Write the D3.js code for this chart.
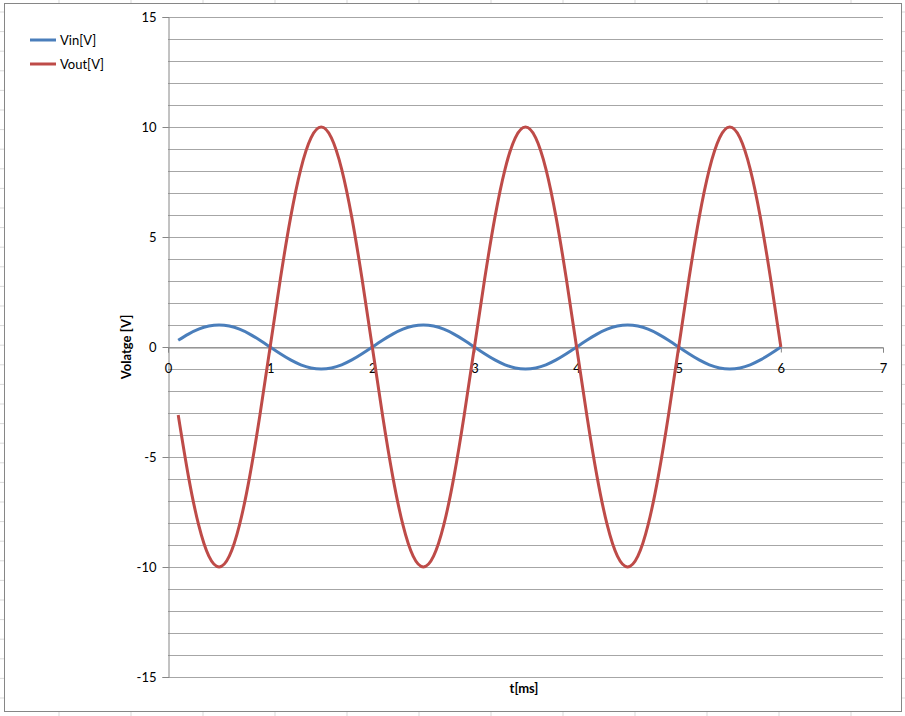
<!DOCTYPE html>
<html><head><meta charset="utf-8">
<script src="https://cdn.jsdelivr.net/npm/d3@7"></script>
<style>body{margin:0;background:#fff}svg{display:block}text{font-family:Lato,"Liberation Sans",sans-serif;fill:#000}</style>
</head><body><svg id="c" width="905" height="716"></svg>
<script>
const tValues = [0.1,0.2,0.3,0.4,0.5,0.6,0.7,0.8,0.9,1.0,1.1,1.2,1.3,1.4,1.5,1.6,1.7,1.8,1.9,2.0,2.1,2.2,2.3,2.4,2.5,2.6,2.7,2.8,2.9,3.0,3.1,3.2,3.3,3.4,3.5,3.6,3.7,3.8,3.9,4.0,4.1,4.2,4.3,4.4,4.5,4.6,4.7,4.8,4.9,5.0,5.1,5.2,5.3,5.4,5.5,5.6,5.7,5.8,5.9,6.0];
const vin = [0.309,0.588,0.809,0.951,1,0.951,0.809,0.588,0.309,0,-0.309,-0.588,-0.809,-0.951,-1,-0.951,-0.809,-0.588,-0.309,0,0.309,0.588,0.809,0.951,1,0.951,0.809,0.588,0.309,0,-0.309,-0.588,-0.809,-0.951,-1,-0.951,-0.809,-0.588,-0.309,0,0.309,0.588,0.809,0.951,1,0.951,0.809,0.588,0.309,0,-0.309,-0.588,-0.809,-0.951,-1,-0.951,-0.809,-0.588,-0.309,0];
const vout = [-3.09,-5.88,-8.09,-9.51,-10,-9.51,-8.09,-5.88,-3.09,0,3.09,5.88,8.09,9.51,10,9.51,8.09,5.88,3.09,0,-3.09,-5.88,-8.09,-9.51,-10,-9.51,-8.09,-5.88,-3.09,0,3.09,5.88,8.09,9.51,10,9.51,8.09,5.88,3.09,0,-3.09,-5.88,-8.09,-9.51,-10,-9.51,-8.09,-5.88,-3.09,0,3.09,5.88,8.09,9.51,10,9.51,8.09,5.88,3.09,0];
const seriesNames = ["Vin[V]","Vout[V]"];
const seriesColors = ["#4A7EBB","#BE4B48"];
const xTicks = [0,1,2,3,4,5,6,7];
const yTicks = [-15,-10,-5,0,5,10,15];
const yGrid = d3.range(-15,16,1);

const svg = d3.select("#c");
// spreadsheet background
const bg = svg.append("g");
d3.range(59, 905, 72).forEach(x => bg.append("line").attr("x1",x).attr("x2",x).attr("y1",0).attr("y2",716).attr("stroke","#d9d9d9"));
d3.range(12, 716, 19.6).forEach(y => bg.append("line").attr("x1",0).attr("x2",905).attr("y1",y).attr("y2",y).attr("stroke","#d9d9d9"));
svg.append("rect").attr("x",4.5).attr("y",3.5).attr("width",897).attr("height",708).attr("fill","#fff").attr("stroke","#868686");

const x = d3.scaleLinear().domain([0,7]).range([168,883]);
const y = d3.scaleLinear().domain([-15,15]).range([677,17]);

// gridlines
svg.append("g").selectAll("line").data(yGrid).join("line")
  .attr("x1",168).attr("x2",883).attr("y1",d=>Math.round(y(d))+0.5).attr("y2",d=>Math.round(y(d))+0.5)
  .attr("stroke","#a6a6a6").attr("stroke-width",1);

const fmt = d => String(d);
// y axis
const yAxis = svg.append("g").attr("transform","translate(168.5,0)")
  .call(d3.axisLeft(y).tickValues(yTicks).tickSize(6).tickPadding(6).tickFormat(fmt));
yAxis.select(".domain").attr("stroke","#868686");
yAxis.selectAll(".tick line").attr("stroke","#868686");
yAxis.selectAll(".tick text").attr("font-size","13px").attr("font-family","Lato,'Liberation Sans',sans-serif").attr("fill","#000");

// x axis at y=0
const xAxis = svg.append("g").attr("transform",`translate(0,${Math.round(y(0))+0.5})`)
  .call(d3.axisBottom(x).tickValues(xTicks).tickSize(5).tickPadding(11).tickFormat(fmt));
xAxis.select(".domain").attr("stroke","#868686");
xAxis.selectAll(".tick line").attr("stroke","#868686");
xAxis.selectAll(".tick text").attr("font-size","13px").attr("font-family","Lato,'Liberation Sans',sans-serif").attr("fill","#000");

// lines
const series = [vin, vout];
const line = d3.line().x((d,i)=>x(tValues[i])).y(d=>y(d)).curve(d3.curveNatural);
series.forEach((s,k)=>{
  svg.append("path").datum(s).attr("d",line).attr("fill","none")
    .attr("stroke",seriesColors[k]).attr("stroke-width",3).attr("stroke-linejoin","round");
});

// titles
svg.append("text").attr("transform","translate(131,347) rotate(-90)").attr("text-anchor","middle")
  .attr("font-size","13px").attr("font-weight","bold").text("Volatge [V]");
svg.append("text").attr("x",524).attr("y",693).attr("text-anchor","middle")
  .attr("font-size","13px").attr("font-weight","bold").text("t[ms]");

// legend
seriesNames.forEach((n,k)=>{
  const ly = 40 + k*24;
  svg.append("line").attr("x1",30).attr("x2",56).attr("y1",ly).attr("y2",ly)
    .attr("stroke",seriesColors[k]).attr("stroke-width",3);
  svg.append("text").attr("x",60).attr("y",ly+4.5).attr("font-size","13px").text(n);
});
</script></body></html>
